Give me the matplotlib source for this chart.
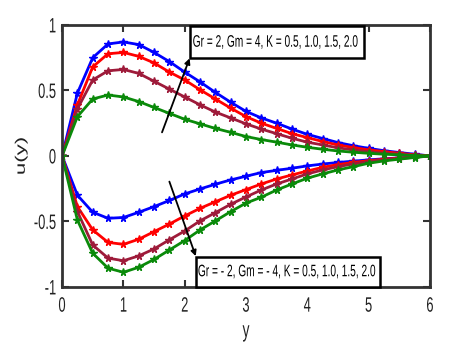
import numpy as np
import matplotlib
matplotlib.use('Agg')
import matplotlib.pyplot as plt
from matplotlib import patheffects
from matplotlib.patches import Rectangle
from matplotlib.transforms import Affine2D

plt.rcParams['font.family'] = ['Liberation Sans', 'DejaVu Sans']
plt.rcParams['axes.unicode_minus'] = False

y = np.arange(0, 6.01, 0.25)

# Gr = 2, Gm = 4
u_pos = {
    "K = 0.5": [0, 0.48, 0.75, 0.855, 0.87, 0.85, 0.79, 0.72, 0.64, 0.565, 0.485, 0.41, 0.34,
                0.29, 0.25, 0.205, 0.165, 0.133, 0.102, 0.078, 0.058, 0.04, 0.026, 0.013, 0],
    "K = 1.0": [0, 0.39, 0.68, 0.78, 0.79, 0.76, 0.71, 0.64, 0.58, 0.505, 0.435, 0.365, 0.30,
                0.25, 0.21, 0.17, 0.14, 0.11, 0.084, 0.064, 0.046, 0.033, 0.02, 0.009, 0],
    "K = 1.5": [0, 0.36, 0.58, 0.65, 0.66, 0.63, 0.57, 0.51, 0.45, 0.39, 0.335, 0.29, 0.245,
                0.205, 0.17, 0.135, 0.105, 0.084, 0.062, 0.046, 0.033, 0.02, 0.013, 0.005, 0],
    "K = 2.0": [0, 0.30, 0.435, 0.465, 0.45, 0.415, 0.37, 0.325, 0.28, 0.245, 0.21, 0.18, 0.148,
                0.125, 0.105, 0.084, 0.066, 0.051, 0.038, 0.028, 0.02, 0.013, 0.008, 0.003, 0],
}

# Gr = -2, Gm = -4
u_neg = {
    "K = 0.5": [0, -0.30, -0.43, -0.476, -0.47, -0.43, -0.387, -0.34, -0.29, -0.252, -0.216, -0.183,
                -0.155, -0.127, -0.11, -0.094, -0.076, -0.062, -0.05, -0.04, -0.03, -0.022, -0.015, -0.007, 0],
    "K = 1.0": [0, -0.387, -0.565, -0.66, -0.675, -0.636, -0.578, -0.52, -0.458, -0.40, -0.35, -0.30,
                -0.257, -0.214, -0.176, -0.145, -0.115, -0.087, -0.066, -0.05, -0.036, -0.025, -0.017, -0.008, 0],
    "K = 1.5": [0, -0.425, -0.68, -0.78, -0.80, -0.763, -0.71, -0.64, -0.573, -0.496, -0.433, -0.369,
                -0.313, -0.26, -0.214, -0.176, -0.137, -0.107, -0.082, -0.061, -0.043, -0.03, -0.02, -0.01, 0],
    "K = 2.0": [0, -0.49, -0.743, -0.857, -0.888, -0.85, -0.79, -0.718, -0.646, -0.565, -0.496, -0.425,
                -0.36, -0.315, -0.26, -0.214, -0.17, -0.137, -0.107, -0.082, -0.056, -0.038, -0.025, -0.012, 0],
}

colors = ['#0000FF', '#FF0000', '#9E1B3A', '#0A8A0A']

label_pos = 'Gr = 2, Gm = 4, K = 0.5, 1.0, 1.5, 2.0'
label_neg = 'Gr = - 2, Gm = - 4, K = 0.5, 1.0, 1.5, 2.0'


class Squeeze(patheffects.AbstractPathEffect):
    # narrow the glyphs horizontally, like the condensed font of the original
    def __init__(self, sx=0.65, anchor='center'):
        super().__init__()
        self.sx = sx
        self.anchor = anchor

    def draw_path(self, renderer, gc, tpath, affine, rgbFace=None):
        ext = tpath.get_extents(affine)
        x0 = {'left': ext.x0, 'center': 0.5 * (ext.x0 + ext.x1), 'right': ext.x1}[self.anchor]
        aff = affine + Affine2D().translate(-x0, 0).scale(self.sx, 1).translate(x0, 0)
        renderer.draw_path(gc, tpath, aff, rgbFace)


fig = plt.figure(figsize=(4.74, 3.56), dpi=100)
ax = fig.add_axes([0.131, 0.194, 0.776, 0.736])

for (k, c) in zip(u_pos, colors):
    ax.plot(y, u_pos[k], '-*', color=c, lw=2, ms=5.5, mew=1)
    ax.plot(y, u_neg[k], '-*', color=c, lw=2, ms=5.5, mew=1)

ax.set_xlim(0, 6)
ax.set_ylim(-1, 1)
ax.set_xticks([0, 1, 2, 3, 4, 5, 6])
ax.set_yticks([-1, -0.5, 0, 0.5, 1])
ax.set_yticklabels(['-1', '-0.5', '0', '0.5', '1'])
ax.tick_params(direction='in', top=True, right=True, length=5, width=1.5,
               labelsize=15, colors='#333333', labelcolor='#222222')
ax.tick_params(axis='x', pad=7)
ax.tick_params(axis='y', pad=4)
for s in ax.spines.values():
    s.set_linewidth(2)
    s.set_color('#333333')

for t in ax.get_xticklabels():
    t.set_path_effects([Squeeze(0.62, 'center')])
for t in ax.get_yticklabels():
    t.set_path_effects([Squeeze(0.62, 'right')])

xl = ax.set_xlabel('y', fontsize=16, color='#222222')
yl = ax.set_ylabel('u(y)', fontsize=16, color='#222222')
ax.xaxis.set_label_coords(0.5, -0.13)
ax.yaxis.set_label_coords(-0.082, 0.5)
xl.set_path_effects([Squeeze(0.62, 'center')])
yl.set_path_effects([Squeeze(0.62, 'center')])

# annotation boxes
ax.add_patch(Rectangle((2.09, 0.748), 2.83, 0.244, fc='white', ec='black', lw=1.8,
                       clip_on=False, zorder=5))
ax.text(3.47, 0.868, label_pos, fontsize=12, ha='center', va='center', zorder=6,
        path_effects=[Squeeze(0.61, 'center')])
ax.annotate('', xy=(2.08, 0.745), xytext=(1.63, 0.18), zorder=6,
            arrowprops=dict(arrowstyle='-|>', color='black', lw=1.3, shrinkA=0, shrinkB=0,
                            mutation_scale=8))

ax.add_patch(Rectangle((2.19, -1.0), 3.0, 0.232, fc='white', ec='black', lw=1.8,
                       clip_on=False, zorder=5))
ax.text(3.655, -0.884, label_neg, fontsize=12, ha='center', va='center', zorder=6,
        path_effects=[Squeeze(0.61, 'center')])
ax.annotate('', xy=(2.18, -0.765), xytext=(1.75, -0.196), zorder=6,
            arrowprops=dict(arrowstyle='-|>', color='black', lw=1.3, shrinkA=0, shrinkB=0,
                            mutation_scale=8))

plt.savefig('out.png', dpi=100)
